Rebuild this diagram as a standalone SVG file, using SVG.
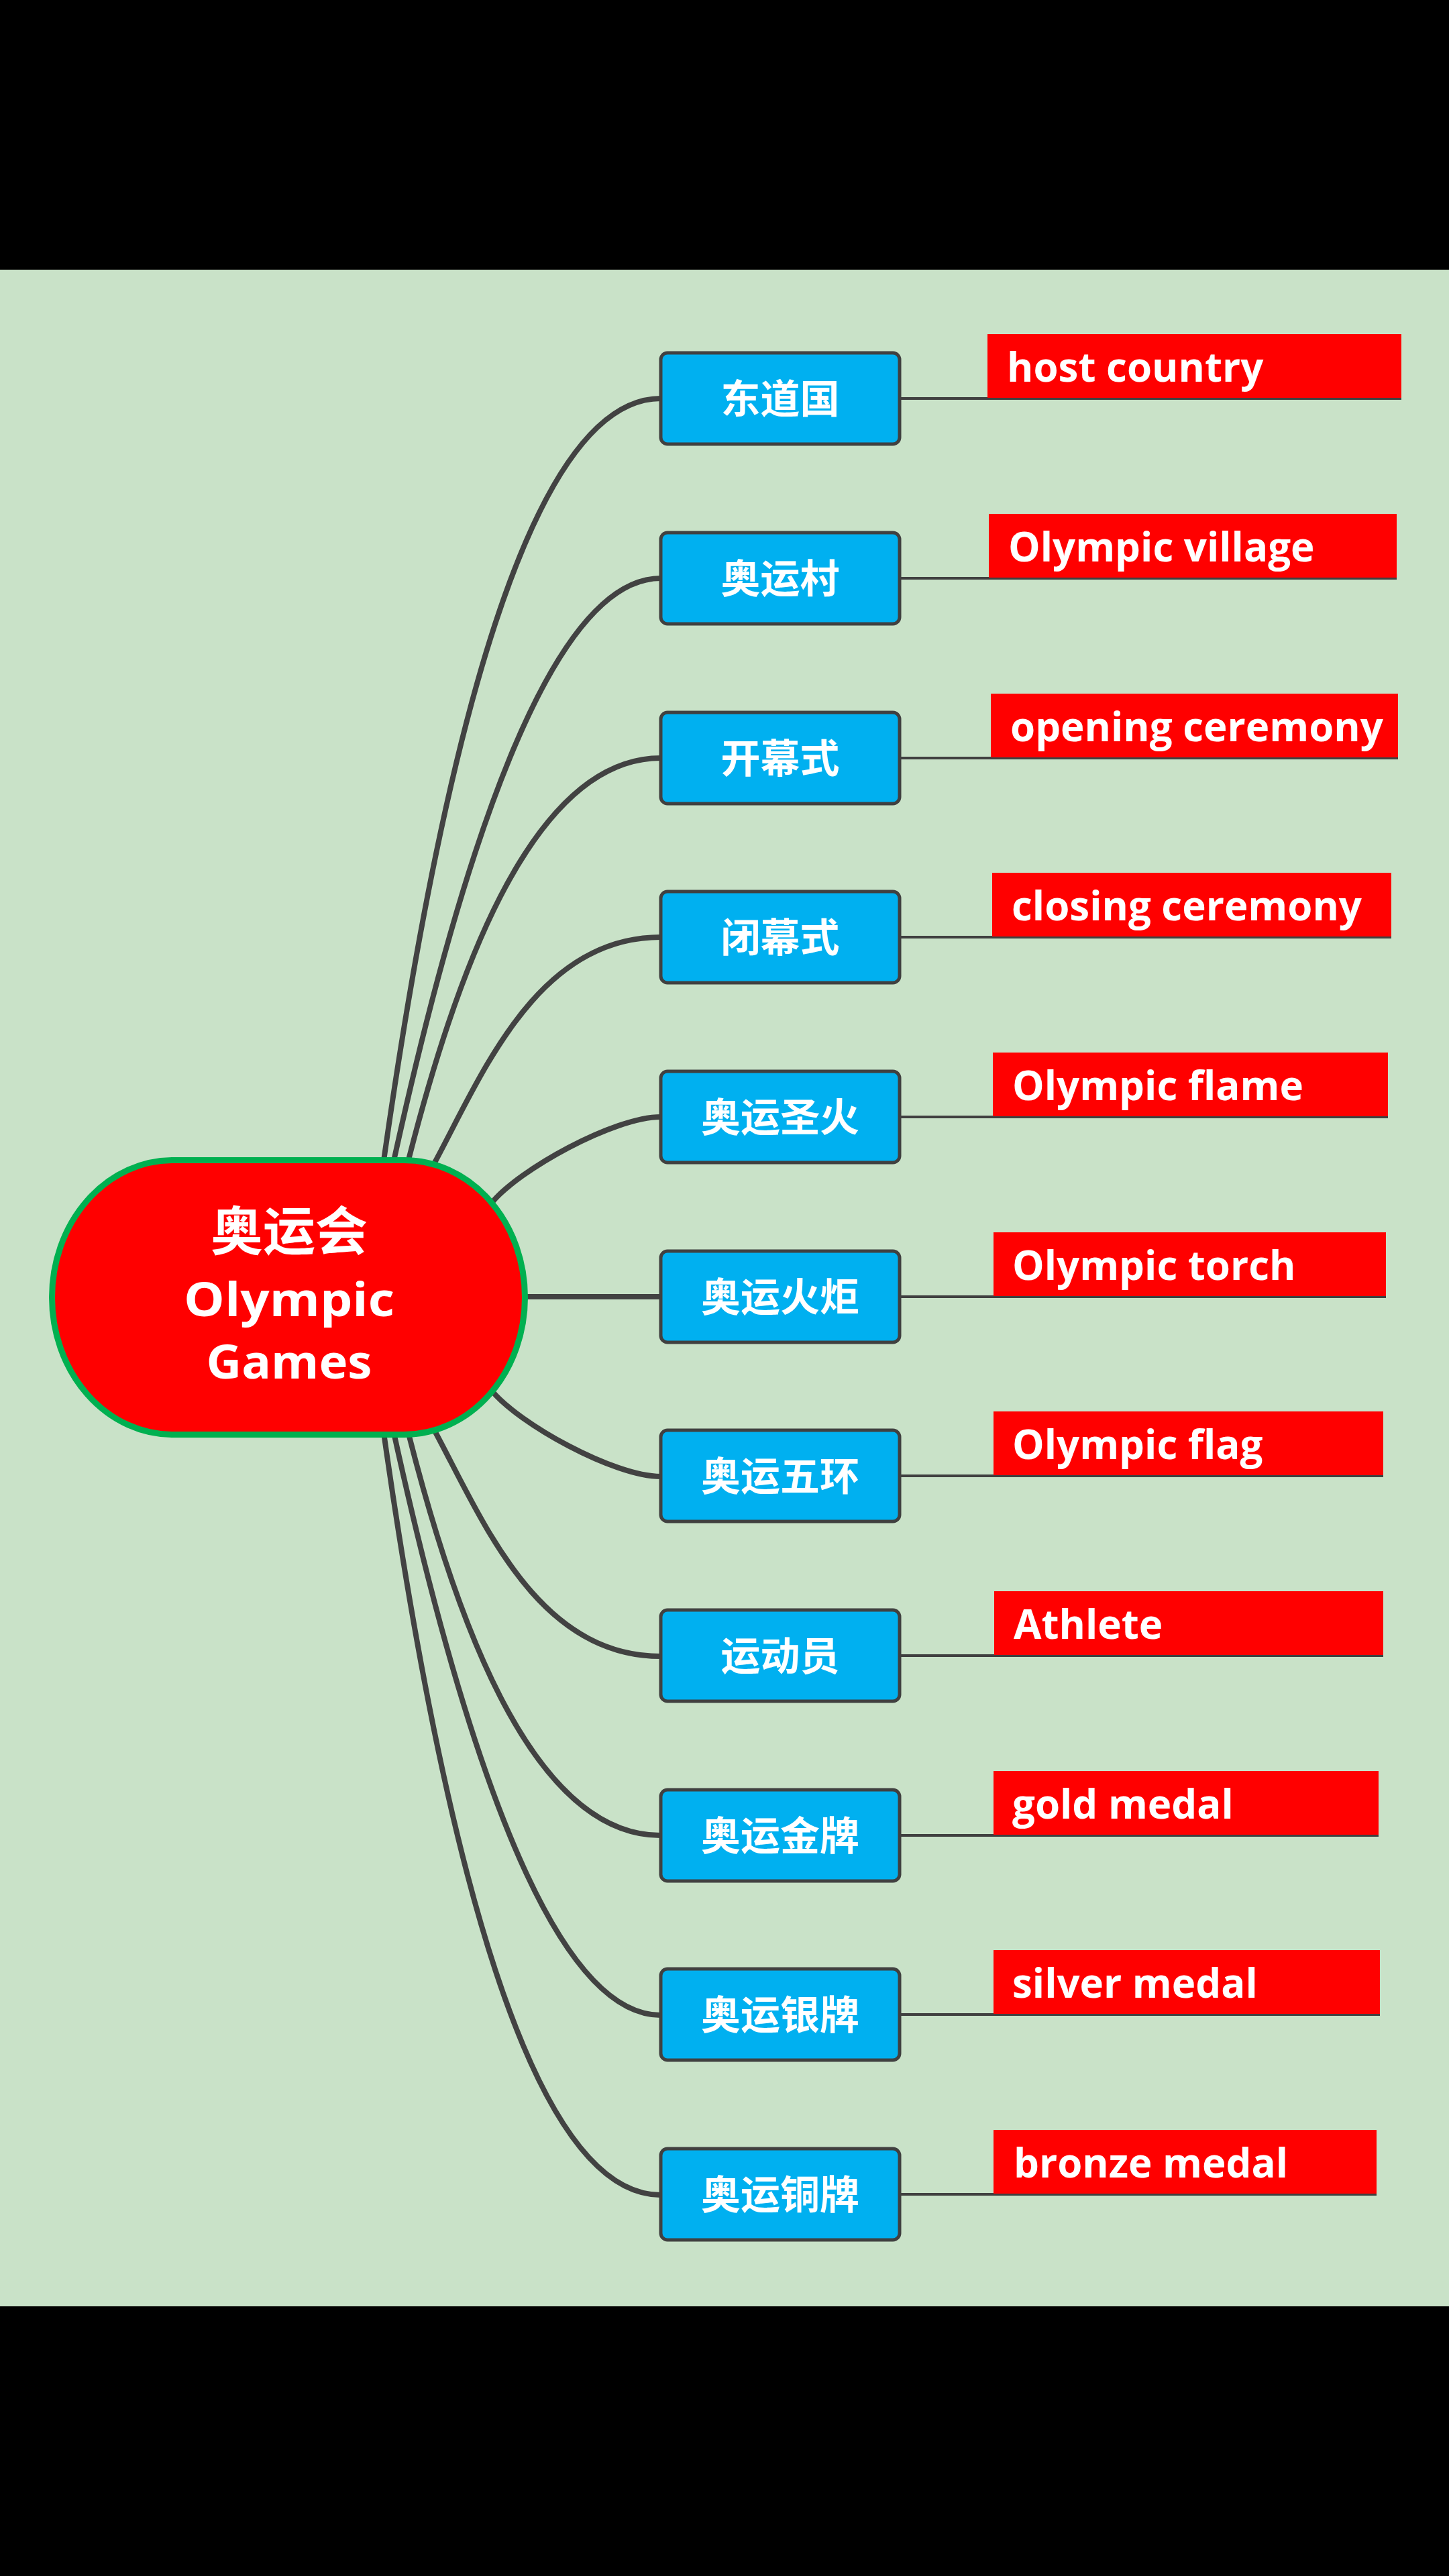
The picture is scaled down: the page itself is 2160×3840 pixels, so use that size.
<svg xmlns="http://www.w3.org/2000/svg" width="2160" height="3840" viewBox="0 0 2160 3840">
  <style>
    .bg { fill: #C9E2C8; }
    .bar { fill: #000000; }
    .curve { fill: none; stroke: #424242; stroke-width: 8; stroke-linecap: round; }
    .link { fill: none; stroke: #404040; stroke-width: 4; }
    .topic { fill: #00B0F0; stroke: #404040; stroke-width: 5; }
    .label { fill: #FF0000; }
    .cjk { font-family: "Noto Sans CJK SC", "Noto Sans", sans-serif; font-weight: bold; font-size: 59px; fill: #FFFFFF; text-anchor: middle; }
    .eng { font-family: "Open Sans", "Noto Sans", "Liberation Sans", sans-serif; font-weight: bold; font-size: 60px; fill: #FFFFFF; }
    .rootcjk { font-family: "Noto Sans CJK SC", "Noto Sans", sans-serif; font-weight: bold; font-size: 78px; fill: #FFFFFF; text-anchor: middle; }
    .rooteng { font-family: "Open Sans", "Noto Sans", "Liberation Sans", sans-serif; font-weight: bold; font-size: 70px; fill: #FFFFFF; text-anchor: middle; }
  </style>
  <rect class="bg" x="0" y="0" width="2160" height="3840"/>
  <rect class="bar" x="0" y="0" width="2160" height="402"/>
  <rect class="bar" x="0" y="3438" width="2160" height="402"/>

  <g id="connectors">
    <path class="curve" d="M545,1933 Q712,594 985,594"/>
    <path class="curve" d="M545,1933 Q755,862 985,862"/>
    <path class="curve" d="M580,1840 L610,1725 C672,1483 785,1130 985,1130"/>
    <path class="curve" d="M590,1840 L648,1733 C719,1601 800,1397 985,1397"/>
    <path class="curve" d="M680,1858 L733,1793 C773,1744 915,1665 985,1665"/>
    <path class="curve" d="M545,1933 L985,1933"/>
    <path class="curve" d="M680,2008 L733,2073 C773,2122 915,2201 985,2201"/>
    <path class="curve" d="M590,2026 L648,2133 C719,2265 800,2469 985,2469"/>
    <path class="curve" d="M580,2026 L610,2141 C672,2383 785,2736 985,2736"/>
    <path class="curve" d="M545,1933 Q755,3004 985,3004"/>
    <path class="curve" d="M545,1933 Q712,3272 985,3272"/>
    <line class="link" x1="1341" y1="594" x2="2089" y2="594"/>
    <line class="link" x1="1341" y1="862" x2="2082" y2="862"/>
    <line class="link" x1="1341" y1="1130" x2="2084" y2="1130"/>
    <line class="link" x1="1341" y1="1397" x2="2074" y2="1397"/>
    <line class="link" x1="1341" y1="1665" x2="2069" y2="1665"/>
    <line class="link" x1="1341" y1="1933" x2="2066" y2="1933"/>
    <line class="link" x1="1341" y1="2200" x2="2062" y2="2200"/>
    <line class="link" x1="1341" y1="2468" x2="2062" y2="2468"/>
    <line class="link" x1="1341" y1="2736" x2="2055" y2="2736"/>
    <line class="link" x1="1341" y1="3003" x2="2057" y2="3003"/>
    <line class="link" x1="1341" y1="3271" x2="2052" y2="3271"/>
  </g>

  <g id="root">
    <rect x="77.5" y="1729.5" width="705" height="409" rx="180" ry="204.5" fill="#FF0000" stroke="#00B050" stroke-width="9"/>
    <text class="rootcjk" x="431" y="1864">奥运会</text>
    <text class="rooteng" x="431" y="1962" textLength="314" lengthAdjust="spacingAndGlyphs">Olympic</text>
    <text class="rooteng" x="431" y="2055" textLength="247" lengthAdjust="spacingAndGlyphs">Games</text>
  </g>

  <g id="n1"><rect class="topic" x="985" y="526" width="356" height="136" rx="10"/><text class="cjk" x="1163" y="616">东道国</text></g>
  <g id="n1e"><rect class="label" x="1472" y="498" width="617" height="95"/><text class="eng" x="1501" y="569">host country</text></g>

  <g id="n2"><rect class="topic" x="985" y="794" width="356" height="136" rx="10"/><text class="cjk" x="1163" y="884">奥运村</text></g>
  <g id="n2e"><rect class="label" x="1474" y="766" width="608" height="95"/><text class="eng" x="1503" y="837">Olympic village</text></g>

  <g id="n3"><rect class="topic" x="985" y="1062" width="356" height="136" rx="10"/><text class="cjk" x="1163" y="1152">开幕式</text></g>
  <g id="n3e"><rect class="label" x="1477" y="1034" width="607" height="95"/><text class="eng" x="1506" y="1105">opening ceremony</text></g>

  <g id="n4"><rect class="topic" x="985" y="1329" width="356" height="136" rx="10"/><text class="cjk" x="1163" y="1419">闭幕式</text></g>
  <g id="n4e"><rect class="label" x="1479" y="1301" width="595" height="95"/><text class="eng" x="1508" y="1372">closing ceremony</text></g>

  <g id="n5"><rect class="topic" x="985" y="1597" width="356" height="136" rx="10"/><text class="cjk" x="1163" y="1687">奥运圣火</text></g>
  <g id="n5e"><rect class="label" x="1480" y="1569" width="589" height="95"/><text class="eng" x="1509" y="1640">Olympic flame</text></g>

  <g id="n6"><rect class="topic" x="985" y="1865" width="356" height="136" rx="10"/><text class="cjk" x="1163" y="1955">奥运火炬</text></g>
  <g id="n6e"><rect class="label" x="1481" y="1837" width="585" height="95"/><text class="eng" x="1509" y="1908">Olympic torch</text></g>

  <g id="n7"><rect class="topic" x="985" y="2132" width="356" height="136" rx="10"/><text class="cjk" x="1163" y="2222">奥运五环</text></g>
  <g id="n7e"><rect class="label" x="1481" y="2104" width="581" height="95"/><text class="eng" x="1509" y="2175">Olympic flag</text></g>

  <g id="n8"><rect class="topic" x="985" y="2400" width="356" height="136" rx="10"/><text class="cjk" x="1163" y="2490">运动员</text></g>
  <g id="n8e"><rect class="label" x="1482" y="2372" width="580" height="95"/><text class="eng" x="1511" y="2443">Athlete</text></g>

  <g id="n9"><rect class="topic" x="985" y="2668" width="356" height="136" rx="10"/><text class="cjk" x="1163" y="2758">奥运金牌</text></g>
  <g id="n9e"><rect class="label" x="1481" y="2640" width="574" height="95"/><text class="eng" x="1509" y="2711">gold medal</text></g>

  <g id="n10"><rect class="topic" x="985" y="2935" width="356" height="136" rx="10"/><text class="cjk" x="1163" y="3025">奥运银牌</text></g>
  <g id="n10e"><rect class="label" x="1481" y="2907" width="576" height="95"/><text class="eng" x="1509" y="2978">silver medal</text></g>

  <g id="n11"><rect class="topic" x="985" y="3203" width="356" height="136" rx="10"/><text class="cjk" x="1163" y="3293">奥运铜牌</text></g>
  <g id="n11e"><rect class="label" x="1481" y="3175" width="571" height="95"/><text class="eng" x="1511" y="3246">bronze medal</text></g>
</svg>
